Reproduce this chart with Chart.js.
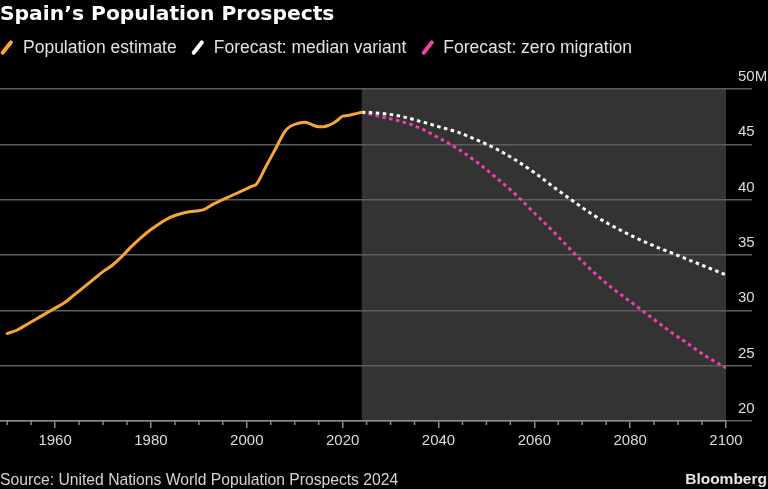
<!DOCTYPE html>
<html>
<head>
<meta charset="utf-8">
<script src="https://cdn.jsdelivr.net/npm/chart.js@4.4.1/dist/chart.umd.min.js"></script>
<style>
  html, body { margin: 0; padding: 0; background: #000; }
  #wrap { position: relative; width: 768px; height: 489px; overflow: hidden; background: #000; }
  #chart { position: absolute; left: 0; top: 0; }
  .title { position: absolute; left: 0; top: 3px; white-space: nowrap;
           font: bold 20.3px/20px 'DejaVu Sans', sans-serif; color: #fff; }
  #legend { position: absolute; left: 0; top: 39px; display: flex; white-space: nowrap;
            font: 17.5px/17px 'Liberation Sans', sans-serif; color: #e2e2e2; }
  .item { display: flex; margin-right: 14px; }
  .icon { position: relative; width: 14px; height: 17px; margin-right: 9px; }
  .icon span { position: absolute; left: 5.2px; top: 0px; width: 3.6px; height: 16.5px;
               border-radius: 1.8px; transform: rotate(38deg); }
  .source { position: absolute; left: 0; top: 472px; white-space: nowrap;
            font: 15.7px/16px 'Liberation Sans', sans-serif; color: #d4d4d4; }
  .brand { position: absolute; right: 1px; top: 471px; white-space: nowrap;
           font: bold 15.5px/16px 'Liberation Sans', sans-serif; color: #e6e6e6; }
</style>
</head>
<body>
<div id="wrap">
  <canvas id="chart" width="768" height="489"></canvas>
  <div class="title">Spain’s Population Prospects</div>
  <div id="legend"></div>
  <div class="source">Source: United Nations World Population Prospects 2024</div>
  <div class="brand">Bloomberg</div>
</div>
<script>
// Population estimate, millions
const estYears = [1950, 1952, 1954, 1956, 1958, 1960, 1962, 1964, 1966, 1968,
                  1970, 1972, 1974, 1976, 1978, 1980, 1982, 1984, 1986, 1988,
                  1990, 1991, 1993, 1995, 1997, 1999, 2001, 2002, 2004, 2006,
                  2008, 2009, 2010, 2012, 2013, 2014, 2015, 2016, 2017, 2018,
                  2019, 2020, 2021, 2022, 2023, 2024];
const estValues = [27.9, 28.2, 28.7, 29.2, 29.7, 30.2, 30.7, 31.4, 32.1, 32.8,
                   33.5, 34.1, 34.9, 35.8, 36.6, 37.3, 37.9, 38.4, 38.7, 38.9,
                   39.0, 39.1, 39.6, 40.0, 40.4, 40.8, 41.2, 41.4, 43.0, 44.6,
                   46.2, 46.6, 46.8, 47.0, 46.9, 46.7, 46.6, 46.6, 46.7, 46.9,
                   47.2, 47.55, 47.6, 47.7, 47.8, 47.9];

// Forecasts, millions
const fcYears = [2024, 2028, 2032, 2036, 2040, 2044, 2048, 2052, 2056, 2060,
                 2064, 2068, 2072, 2076, 2080, 2084, 2088, 2092, 2096, 2100];
const medianValues = [47.9, 47.8, 47.55, 47.1, 46.6, 46.1, 45.4, 44.6, 43.6, 42.45,
                      41.15, 39.9, 38.7, 37.7, 36.8, 36.0, 35.3, 34.6, 33.9, 33.2];
const zeroValues = [47.9, 47.5, 47.1, 46.5, 45.6, 44.6, 43.4, 42.0, 40.5, 38.8,
                    37.1, 35.3, 33.6, 32.1, 30.8, 29.5, 28.2, 27.0, 25.8, 24.8];

const seriesLabels = ['Population estimate', 'Forecast: median variant', 'Forecast: zero migration'];
const seriesColors = ['#f8a532', '#ffffff', '#f03fae'];

const xTickYears = [1960, 1980, 2000, 2020, 2040, 2060, 2080, 2100];
const yTickValues = [20, 25, 30, 35, 40, 45, 50];
const forecastStart = 2024;
const forecastEnd = 2100;

const GRID = '#5e5e5e';
const AXIS = '#8c8c8c';
const LABEL = '#dcdcdc';
const TICK_FONT = { family: "'Liberation Sans', sans-serif", size: 15 };

const toPoints = (xs, ys) => xs.map((x, i) => ({ x: x, y: ys[i] }));

// Grey backdrop behind the forecast period
const forecastShade = {
    id: 'forecastShade',
    beforeDraw(chart) {
        const { ctx, scales: { x, y } } = chart;
        const left = x.getPixelForValue(forecastStart);
        const right = x.getPixelForValue(forecastEnd);
        const top = y.getPixelForValue(50);
        const bottom = y.getPixelForValue(20);
        ctx.save();
        ctx.fillStyle = '#333333';
        ctx.fillRect(left, top, right - left, bottom - top);
        ctx.restore();
    }
};

// Short ticks every five years between the labelled ones
const minorTicks = {
    id: 'minorTicks',
    afterDraw(chart) {
        const { ctx, chartArea, scales: { x } } = chart;
        ctx.save();
        ctx.strokeStyle = AXIS;
        ctx.lineWidth = 1.5;
        for (let yr = 1950; yr <= 2100; yr += 5) {
            if (yr % 20 === 0) continue;
            const px = x.getPixelForValue(yr);
            ctx.beginPath();
            ctx.moveTo(px, chartArea.bottom);
            ctx.lineTo(px, chartArea.bottom + 4);
            ctx.stroke();
        }
        ctx.restore();
    }
};

const chart = new Chart(document.getElementById('chart'), {
    type: 'line',
    data: {
        datasets: [
            {
                label: seriesLabels[0],
                data: toPoints(estYears, estValues),
                borderColor: seriesColors[0],
                borderWidth: 3,
                borderCapStyle: 'round',
                cubicInterpolationMode: 'monotone'
            },
            {
                label: seriesLabels[1],
                data: toPoints(fcYears, medianValues),
                borderColor: seriesColors[1],
                borderWidth: 3,
                borderDash: [3.5, 3.5],
                cubicInterpolationMode: 'monotone'
            },
            {
                label: seriesLabels[2],
                data: toPoints(fcYears, zeroValues),
                borderColor: seriesColors[2],
                borderWidth: 3,
                borderDash: [3.5, 3.5],
                cubicInterpolationMode: 'monotone'
            }
        ]
    },
    options: {
        responsive: false,
        animation: false,
        elements: { point: { radius: 0 } },
        layout: { padding: { left: 0, right: 0, top: 89, bottom: 28 } },
        plugins: {
            legend: { display: false },
            tooltip: { enabled: false }
        },
        scales: {
            x: {
                type: 'linear',
                min: 1948.5,
                max: 2100,
                afterBuildTicks: s => { s.ticks = xTickYears.map(v => ({ value: v })); },
                afterFit: s => { s.height = 40; },
                grid: { drawOnChartArea: false, tickLength: 7, color: AXIS, lineWidth: 1.5 },
                border: { color: AXIS, width: 1.5 },
                ticks: {
                    color: LABEL,
                    font: TICK_FONT,
                    padding: 4,
                    maxRotation: 0,
                    autoSkip: false,
                    callback: v => String(v)
                }
            },
            y: {
                position: 'right',
                min: 20,
                max: 50,
                afterBuildTicks: s => { s.ticks = yTickValues.map(v => ({ value: v })); },
                afterFit: s => { s.width = 42; },
                grid: { color: GRID, lineWidth: 1.5, tickLength: 26 },
                border: { display: false },
                ticks: {
                    color: LABEL,
                    font: TICK_FONT,
                    padding: -14,
                    labelOffset: -12,
                    crossAlign: 'near',
                    callback: v => v === 50 ? '50M' : String(v)
                }
            }
        }
    },
    plugins: [forecastShade, minorTicks]
});

// Legend built from the chart's datasets
const legendEl = document.getElementById('legend');
chart.data.datasets.forEach(ds => {
    const item = document.createElement('div');
    item.className = 'item';
    item.innerHTML = '<div class="icon"><span style="background:' + ds.borderColor + '"></span></div>' +
                     '<div>' + ds.label + '</div>';
    legendEl.appendChild(item);
});
</script>
</body>
</html>
